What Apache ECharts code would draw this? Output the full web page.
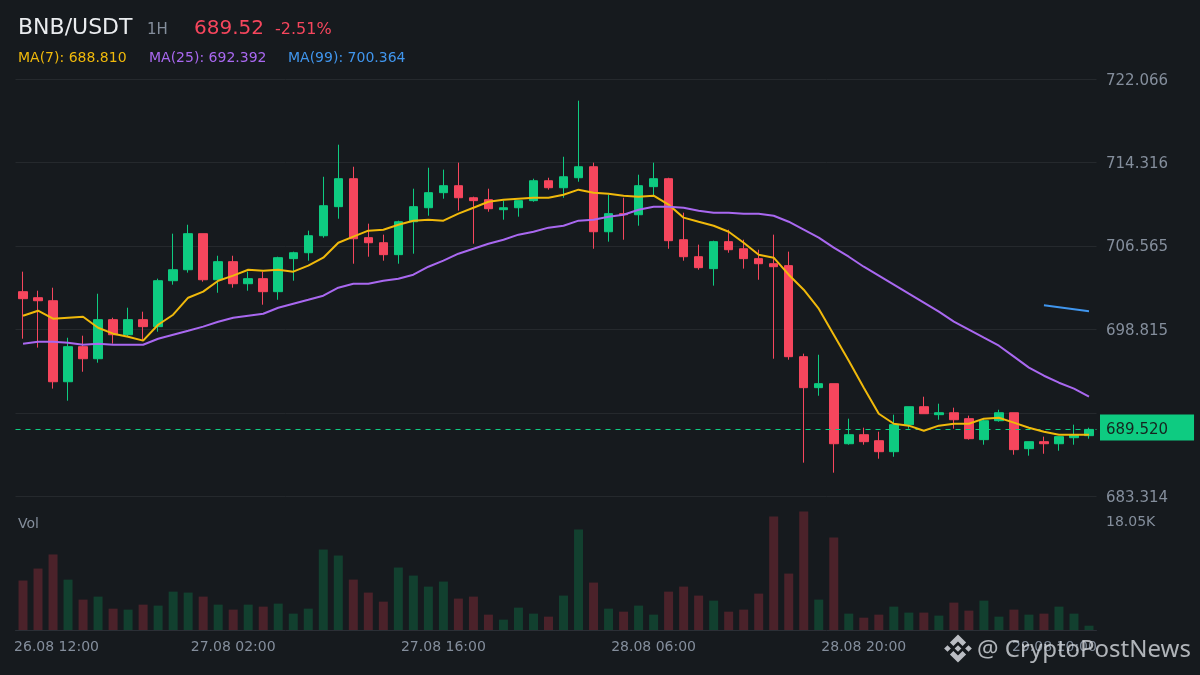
<!DOCTYPE html>
<html>
<head>
<meta charset="utf-8">
<style>html,body{margin:0;padding:0;background:#161a1e}#c{width:1200px;height:675px}</style>
<script src="https://cdn.jsdelivr.net/npm/echarts@6/dist/echarts.min.js"></script>
</head>
<body>
<div id="c"></div>
<script>
const opens = [702.32,701.76,701.48,693.95,697.21,696.09,699.72,698.32,699.72,699.07,703.34,704.36,707.71,703.43,705.11,703.06,703.53,702.32,705.39,705.94,707.52,710.22,712.82,707.34,706.87,705.76,708.82,710.12,711.52,712.17,711.05,710.87,709.94,710.12,710.78,712.63,711.98,712.91,713.93,707.89,709.57,709.47,712.08,712.82,707.15,705.57,704.46,706.97,706.31,705.39,704.92,704.74,696.28,693.4,693.77,688.19,689.03,688.47,687.45,689.96,691.63,690.89,691.07,690.52,688.57,690.33,691.07,687.73,688.38,688.19,688.75,688.94];
const closes = [701.67,701.48,693.95,697.21,696.09,699.72,698.32,699.72,699.07,703.34,704.36,707.71,703.43,705.11,703.06,703.53,702.32,705.48,705.94,707.52,710.31,712.82,707.24,706.87,705.76,708.82,710.22,711.52,712.17,711.05,710.78,710.03,710.12,710.78,712.63,711.98,713.0,713.93,707.89,709.57,709.47,712.17,712.82,707.06,705.57,704.55,706.97,706.22,705.39,704.92,704.64,696.28,693.4,693.77,688.19,689.03,688.38,687.45,689.96,691.63,690.98,691.07,690.42,688.66,690.33,691.07,687.64,688.38,688.19,688.85,689.03,689.52];
const lows = [697.95,697.12,693.31,692.19,694.88,695.72,697.49,698.14,697.77,698.6,702.97,704.09,703.25,702.22,702.69,702.41,701.11,701.57,703.34,705.2,707.34,709.1,704.92,705.57,705.2,704.92,705.85,709.38,710.96,709.85,706.78,709.75,709.01,709.29,710.68,711.8,711.05,712.54,706.31,706.97,707.15,708.45,711.24,706.31,705.2,704.36,702.88,705.94,704.46,703.43,696.09,696.0,686.43,692.65,685.5,688.1,688.1,686.8,686.98,689.59,690.98,690.42,689.59,688.57,688.1,690.24,687.17,687.08,687.26,687.54,688.1,688.66];
const highs = [704.18,702.41,702.69,698.04,698.23,702.13,699.9,700.83,700.46,703.53,707.71,708.54,707.71,705.66,705.66,704.18,704.18,705.57,706.04,707.99,713.0,715.98,713.93,708.64,707.62,708.92,711.89,713.84,713.66,714.31,711.15,711.89,710.78,710.78,712.82,712.91,714.86,720.07,714.31,711.33,711.05,713.19,714.31,712.91,709.66,706.69,707.06,708.08,707.15,706.22,707.62,706.04,696.56,696.46,693.77,690.52,689.68,689.31,690.89,691.63,692.56,691.91,691.54,690.8,690.52,691.35,691.07,688.38,688.85,688.85,689.96,689.68];
const volumesK = [8.25,10.25,12.6,8.4,5.07,5.57,3.56,3.4,4.23,4.07,6.4,6.24,5.57,4.23,3.4,4.23,3.9,4.4,2.73,3.56,13.42,12.42,8.41,6.24,4.73,10.42,9.08,7.24,8.08,5.24,5.57,2.56,1.73,3.73,2.73,2.23,5.74,16.77,7.91,3.56,3.06,4.07,2.56,6.4,7.24,5.74,4.9,3.06,3.4,6.07,18.94,9.41,19.77,5.07,15.43,2.73,2.06,2.56,3.9,2.9,2.9,2.4,4.57,3.23,4.9,2.23,3.4,2.56,2.73,3.9,2.73,0.72];
const ma7 = [700.09,700.55,699.81,699.9,699.99,698.97,698.42,698.14,697.77,699.25,700.18,701.76,702.32,703.34,703.81,704.36,704.27,704.36,704.18,704.74,705.48,706.87,707.43,707.99,708.08,708.54,708.92,709.01,708.92,709.57,710.12,710.68,710.87,710.96,711.05,711.05,711.33,711.8,711.52,711.42,711.24,711.15,711.24,710.41,709.2,708.82,708.45,707.89,706.87,705.76,705.48,703.9,702.5,700.74,698.32,695.9,693.4,690.98,690.05,689.87,689.4,689.87,690.05,690.05,690.52,690.61,690.15,689.68,689.31,689.03,689.03,689.03];
const ma25 = [697.49,697.67,697.67,697.58,697.39,697.49,697.39,697.39,697.39,697.95,698.32,698.69,699.07,699.53,699.9,700.09,700.27,700.83,701.2,701.57,701.95,702.69,703.06,703.06,703.34,703.53,703.9,704.64,705.2,705.85,706.31,706.78,707.15,707.62,707.89,708.27,708.45,708.92,709.01,709.29,709.47,709.94,710.22,710.22,710.12,709.85,709.66,709.66,709.57,709.57,709.38,708.82,708.08,707.34,706.41,705.57,704.64,703.81,702.97,702.13,701.3,700.46,699.53,698.79,698.04,697.3,696.28,695.26,694.51,693.86,693.31,692.56];
const ma99Tail = [701.06,700.88,700.69,700.5];
const priceTicks = [683.314,691.064,698.815,706.565,714.316,722.066];
const priceLabels = [683.314,698.815,706.565,714.316,722.066];
const lastPrice = 689.52;
const volumeTickK = 18.05;
const firstStamp = Date.UTC(2025,7,26,12);

const GREEN='#0ecb81', RED='#f6465d', GREY='#848e9c', BG='#161a1e', GRID='#25292d';
const FONT='"DejaVu Sans"';
const categories=[];
for(let i=0;i<opens.length;i++){
  const d=new Date(firstStamp+i*3600000), p=n=>String(n).padStart(2,'0');
  categories.push(p(d.getUTCDate())+'.'+p(d.getUTCMonth()+1)+' '+p(d.getUTCHours())+':00');
}
const ma99=new Array(opens.length-ma99Tail.length).fill(null).concat(ma99Tail);
const xLabels=categories.map((c,i)=>{
  if(i===0) return {value:c,textStyle:{padding:[0,0,0,67]}};
  if(i===70) return {value:c,textStyle:{padding:[0,39,0,0]}};
  return c;
});
const head=(text,left,top,size,color)=>({text,left,top,padding:0,textStyle:{fontFamily:FONT,fontSize:size,fontWeight:'normal',color}});
const chart=echarts.init(document.getElementById('c'),null,{renderer:'canvas'});
const lineS=(name,data,color)=>({name,type:'line',data,xAxisIndex:0,yAxisIndex:0,showSymbol:false,symbol:'none',
  lineStyle:{color,width:2},itemStyle:{color},connectNulls:false,silent:true,z:5});
chart.setOption({
  animation:false,
  backgroundColor:BG,
  tooltip:{show:false},
  title:[
    head('BNB/USDT',18,17,22,'#eaecef'),
    head('1H',147,22.5,15,GREY),
    head('689.52',194,19,20,RED),
    head('-2.51%',275,22,16,RED),
    head('MA(7): 688.810',18,51,14,'#f0b90b'),
    head('MA(25): 692.392',149,51,14,'#a968f0'),
    head('MA(99): 700.364',288,51,14,'#4096ee'),
    head('Vol',18,517,14,GREY)
  ],
  grid:[
    {left:15.5,width:1081,top:79.2,height:417},
    {left:15.5,width:1081,top:511,height:119}
  ],
  xAxis:[
    {type:'category',gridIndex:0,data:categories,boundaryGap:true,axisLine:{show:false},axisTick:{show:false},axisLabel:{show:false},splitLine:{show:false}},
    {type:'category',gridIndex:1,data:xLabels,boundaryGap:true,
      axisLine:{show:true,lineStyle:{color:'#2b2f36',width:1}},axisTick:{show:false},splitLine:{show:false},
      axisLabel:{show:true,interval:(i)=>i%14===0,color:GREY,fontFamily:FONT,fontSize:14,margin:10,hideOverlap:false}}
  ],
  yAxis:[
    {type:'value',gridIndex:0,position:'right',min:683.314,max:722.066,scale:true,
      axisLine:{show:false},axisTick:{show:false,customValues:priceTicks},
      splitLine:{show:true,lineStyle:{color:GRID,width:1}},
      axisLabel:{show:true,customValues:priceLabels,margin:9.5,formatter:v=>'{a|'+v.toFixed(3)+'}',
        rich:{a:{color:GREY,fontFamily:FONT,fontSize:15,padding:[3,0,0,0]}}}},
    {type:'value',gridIndex:1,position:'right',min:0,max:19.85,
      axisLine:{show:false},axisTick:{show:false,customValues:[volumeTickK]},splitLine:{show:false},
      axisLabel:{show:true,customValues:[volumeTickK],margin:9.5,formatter:v=>'{a|'+v+'K}',
        rich:{a:{color:GREY,fontFamily:FONT,fontSize:14,padding:[2,0,0,0]}}}}
  ],
  series:[
    {name:'BNB/USDT',type:'candlestick',xAxisIndex:0,yAxisIndex:0,barWidth:9,
      data:opens.map((o,i)=>[o,closes[i],lows[i],highs[i]]),
      itemStyle:{color:GREEN,color0:RED,borderColor:GREEN,borderColor0:RED,borderWidth:1},
      markLine:{silent:true,symbol:'none',animation:false,
        lineStyle:{color:GREEN,type:[5,5],width:1},
        label:{show:true,position:'end',distance:3.5,offset:[0,-2],formatter:'{a|'+lastPrice.toFixed(3)+'}',
          backgroundColor:GREEN,padding:[4,26,3,6],
          rich:{a:{color:'#16251f',fontFamily:FONT,fontSize:15,padding:[4,0,0,0]}}},
        data:[{yAxis:lastPrice}]},
      z:3},
    lineS('MA(7)',ma7,'#f0b90b'),
    lineS('MA(25)',ma25,'#a968f0'),
    lineS('MA(99)',ma99,'#4096ee'),
    {name:'Vol',type:'bar',xAxisIndex:1,yAxisIndex:1,barWidth:9,silent:true,
      data:volumesK.map((v,i)=>({value:v,itemStyle:{color:closes[i]>=opens[i]?'#12402f':'#4b222a'}}))}
  ],
  graphic:[
    {type:'group',x:958,y:648.5,z:100,silent:true,children:[
      [[0,-1],[.58,-.42],[.33,-.18],[0,-.5],[-.33,-.18],[-.58,-.42]],
      [[0,1],[.58,.42],[.33,.18],[0,.5],[-.33,.18],[-.58,.42]],
      [[0,-.24],[.24,0],[0,.24],[-.24,0]],
      [[-.75,-.24],[-.51,0],[-.75,.24],[-.99,0]],
      [[.75,-.24],[.99,0],[.75,.24],[.51,0]]
    ].map(pts=>({type:'polygon',shape:{points:pts.map(p=>[p[0]*14,p[1]*14])},style:{fill:'rgba(215,219,224,0.85)'}}))},
    {type:'text',left:977,top:638,z:100,silent:true,style:{text:'@ CryptoPostNews',fill:'rgba(215,219,224,0.8)',font:'24px "Noto Sans"'}}
  ]
});
</script>
</body>
</html>
